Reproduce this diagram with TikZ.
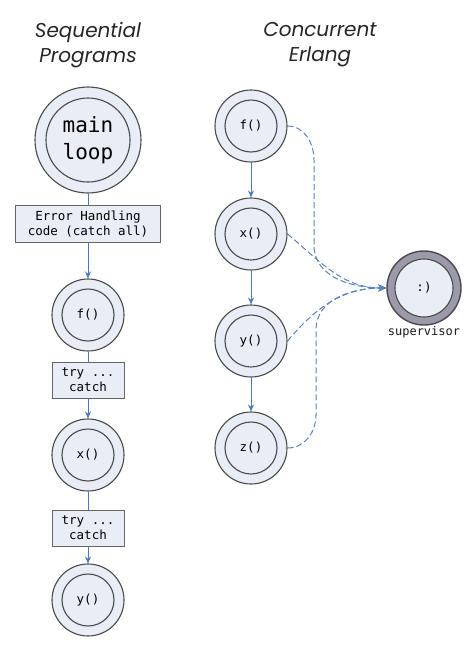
\documentclass[tikz,border=0pt]{standalone}
\usepackage{fontspec}
\setmonofont{DejaVu Sans Mono}
\newfontfamily\titlefont{Poppins}
\usetikzlibrary{arrows.meta}
\definecolor{fillc}{HTML}{E8EDF6}
\definecolor{edgec}{HTML}{4A4A4A}
\definecolor{linkc}{HTML}{4A78C2}
\definecolor{dashc}{HTML}{5A84C0}
\definecolor{ringc}{HTML}{9C9AAA}
\begin{document}
\begin{tikzpicture}[x=1pt,y=-1pt,
  ring/.style={circle,draw=edgec,fill=fillc,line width=1.1pt,minimum size=72pt,inner sep=0pt},
  core/.style={circle,draw=edgec,fill=fillc,line width=1.1pt,minimum size=52pt,inner sep=0pt,align=center,font=\ttfamily\fontsize{12.5}{14}\selectfont},
  bigring/.style={ring,minimum size=106pt},
  bigcore/.style={core,minimum size=84pt,font=\ttfamily\fontsize{21}{27}\selectfont},
  codebox/.style={rectangle,draw=edgec!85,fill=fillc,line width=1pt,inner sep=0pt,align=center,font=\ttfamily\fontsize{12.5}{15}\selectfont},
  title/.style={align=center,font=\titlefont\itshape\fontsize{20}{25}\selectfont,text=black!85},
  link/.style={draw=linkc,line width=1pt},
  arr/.style={link,-{Stealth[length=7pt,width=6pt]}},
  dlink/.style={draw=dashc,line width=1pt,dash pattern=on 6pt off 3pt,-{Stealth[length=8pt,width=7pt]}}
]
\useasboundingbox[fill=white] (0,0) rectangle (474,649);
% titles
\node[title] (t1) at (88,45) {Sequential\\Programs};
\node[title] (t2) at (320,45) {Concurrent\\Erlang};
% left column
\node[bigring] (main) at (88,140) {};
\node[bigcore] (maini) at (main) {main\\loop};
\node[codebox,minimum width=145pt,minimum height=37pt] (eh) at (88,224) {Error Handling\\code (catch all)};
\node[ring] (lf) at (88,315) {};
\node[core] (lfi) at (lf) {f()};
\node[codebox,minimum width=72pt,minimum height=36pt] (tc1) at (88,380) {try ...\\catch};
\node[ring] (lx) at (88,455) {};
\node[core] (lxi) at (lx) {x()};
\node[codebox,minimum width=72pt,minimum height=36pt] (tc2) at (88,528) {try ...\\catch};
\node[ring] (ly) at (88,600) {};
\node[core] (lyi) at (ly) {y()};
\draw[link] (main) -- (eh);
\draw[arr] (eh) -- (lf);
\draw[link] (lf) -- (tc1);
\draw[arr] (tc1) -- (lx);
\draw[link] (lx) -- (tc2);
\draw[arr] (tc2) -- (ly);
% right column
\node[ring] (rf) at (251,126) {};
\node[core] (rfi) at (rf) {f()};
\node[ring] (rx) at (251,234) {};
\node[core] (rxi) at (rx) {x()};
\node[ring] (ry) at (251,341) {};
\node[core] (ryi) at (ry) {y()};
\node[ring] (rz) at (251,448) {};
\node[core] (rzi) at (rz) {z()};
\draw[arr] (rf) -- (rx);
\draw[arr] (rx) -- (ry);
\draw[arr] (ry) -- (rz);
% supervisor
\node[ring,fill=ringc,minimum size=74pt,line width=1.4pt] (sup) at (424,288) {};
\node[core,minimum size=58pt] (supi) at (sup) {:)};
\node[font=\ttfamily\fontsize{12}{14}\selectfont,text=black!90] (suplab) at (424,332) {supervisor};
% dashed links
\draw[dlink] (rf.east) to[out=0,in=90] (314,160) -- (314,245) to[out=-90,in=180] (sup.west);
\draw[dlink] (rx.east) to[out=-40,in=180] (sup.west);
\draw[dlink] (ry.east) to[out=50,in=180] (sup.west);
\draw[dlink] (rz.east) to[out=0,in=-90] (316,415) -- (316,330) to[out=90,in=180] (sup.west);
\end{tikzpicture}
\end{document}
